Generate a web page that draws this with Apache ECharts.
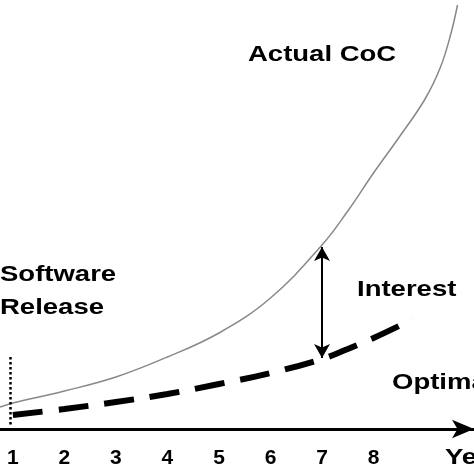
<!DOCTYPE html>
<html>
<head>
<meta charset="utf-8">
<script src="https://cdn.jsdelivr.net/npm/echarts@6/dist/echarts.min.js"></script>
<style>html,body{margin:0;padding:0;background:#fff}#chart{width:474px;height:474px}</style>
</head>
<body>
<div id="chart"></div>
<script>
// values are heights above the year axis
var actualCoc = [[0.75, 22], [1, 26], [2, 38], [3, 52], [4, 72], [5, 96], [6, 131], [7, 184], [7.5, 218], [8, 256], [8.5, 292], [9, 330], [9.3, 362], [9.5, 395], [9.63, 424]];
var optimal = [[1, 14], [2, 20], [3, 27], [4, 35], [5, 45], [6, 56], [7, 70], [7.5, 80], [8, 91], [8.77, 110]];
var yearLabels = ['1', '2', '3', '4', '5', '6', '7', '8'];

var chart = echarts.init(document.getElementById('chart'));
function label(text, x, y) {
    return {
        type: 'text', x: x, y: y, scaleX: 1.25,
        style: { text: text, fontFamily: 'Liberation Sans', fontWeight: 'bold', fontSize: 22, fill: '#000', textVerticalAlign: 'middle' }
    };
}

chart.setOption({
    animation: false,
    grid: { left: 0, right: 0, top: 0, bottom: 45 },
    xAxis: {
        type: 'value', min: 0.75, max: 9.95, interval: 1,
        axisLine: { show: true, symbol: ['none', 'arrow'], symbolSize: [14, 22], lineStyle: { color: '#000', width: 3 } },
        axisTick: { show: false },
        splitLine: { show: false },
        axisLabel: {
            margin: 19, fontSize: 21, fontWeight: 'bold', color: '#000', fontFamily: 'Liberation Sans',
            customValues: [1, 2, 3, 4, 5, 6, 7, 8],
            formatter: function (v) { return yearLabels[Math.round(v) - 1]; }
        }
    },
    yAxis: { type: 'value', min: 0, max: 429, show: false },
    series: [{
        type: 'line', data: actualCoc, smooth: 0.4, showSymbol: false,
        lineStyle: { color: '#888', width: 1.5 },
        markLine: {
            silent: true, animation: false, label: { show: false },
            data: [
                [{ coord: [7, 182], symbol: 'arrow', lineStyle: { type: 'solid', color: '#000', width: 2 } },
                 { coord: [7, 71], symbol: 'arrow' }],
                [{ coord: [0.95, 72], symbol: 'none', lineStyle: { type: 'dotted', color: '#000', width: 2.5 } },
                 { coord: [0.95, 2], symbol: 'none' }]
            ],
            symbolSize: [12, 14]
        }
    }, {
        type: 'line', data: optimal, smooth: 0.4, showSymbol: false,
        lineStyle: { color: '#000', width: 6, type: [30, 16] }
    }],
    graphic: [
        label('Actual CoC', 248, 55),
        label('Software', 0, 275),
        label('Release', 0, 308),
        label('Interest', 357, 290),
        label('Optimal', 392, 383),
        label('Years', 445, 458)
    ]
});
</script>
</body>
</html>
